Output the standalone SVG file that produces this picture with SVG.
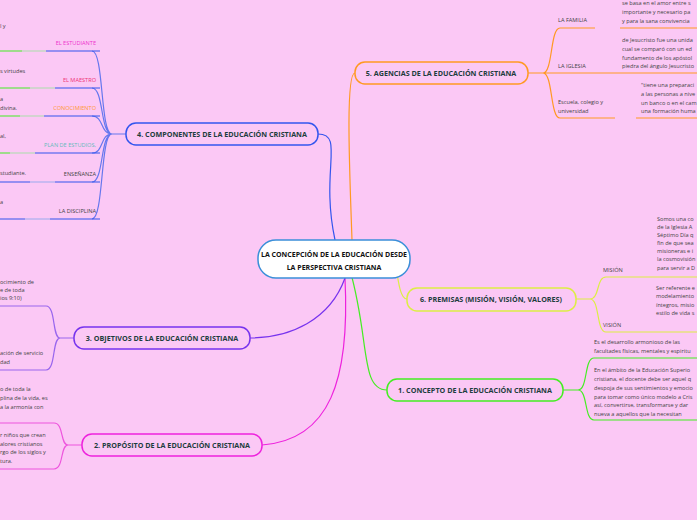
<svg xmlns="http://www.w3.org/2000/svg" width="697" height="520" viewBox="0 0 697 520">
<style>
text{font-family:"Open Sans","Noto Sans",sans-serif;fill:#444;font-size:5.6px}
.m{font-size:7.2px;font-weight:bold;fill:#1d3d3d}
.c{font-size:7px;font-weight:bold;fill:#111}
.n{fill:#fbc8f5;stroke-width:1.5}
path{fill:none}
</style>
<rect width="697" height="520" fill="#fbc8f5"/>
<g id="connectors" stroke-width="1.2">
<path d="M335 240 C320 170 345 134 318 134" stroke="#3355ee"/>
<path d="M126 134 H112 M112 134 C100 134 104 51 92 51 M112 134 C100 134 104 88 92 88 M112 134 C100 134 104 116 92 116 M112 134 C100 134 104 153 92 153 M112 134 C100 134 104 182 92 182 M112 134 C100 134 104 219 92 219" stroke="#6677ee"/>
<path d="M0 51 H22 M0 88 H30 M0 116 H20 M0 153 H10" stroke="#44ee22"/>
<path d="M22 51 H46 M30 88 H55 M20 116 H44 M10 153 H35" stroke="#aaddaa"/>
<path d="M46 51 H100 M55 88 H100 M44 116 H100 M35 153 H100 M0 182 H30 M55 182 H100 M0 219 H25 M50 219 H100" stroke="#3355ee"/>
<path d="M30 182 H55 M25 219 H50" stroke="#99aaee"/>
<path d="M345 278 C350 380 330 440 262 445" stroke="#ee22dd"/>
<path d="M345 278 C330 320 290 338 250 338" stroke="#7733ee"/>
<path d="M350 270 C370 340 360 390 387 390" stroke="#44ee22"/>
<path d="M395 260 C398 280 400 299 407 299" stroke="#ddee44"/>
<path d="M355 73 C345 73 350 180 352 240" stroke="#ff9922"/>
<path d="M528 73 H543 M543 73 C553 73 550 28 560 28 H595 M620 28 H697 M543 73 H697 M543 73 C553 73 550 118 560 118 H615 M636 118 H697" stroke="#ff9922"/>
<path d="M576 299 H590 M590 299 C600 299 596 277 606 277 H697 M590 299 C600 299 596 332 606 332 H697" stroke="#ddee44"/>
<path d="M563 390 H578 M578 390 C588 390 584 358 594 358 H697 M578 390 C588 390 584 420 594 420 H697" stroke="#44ee22"/>
<path d="M74 338 H60 C52 338 56 306 46 306 H0 M60 338 C52 338 56 370 46 370 H0" stroke="#9966ee"/>
<path d="M82 445 H68 C60 445 64 423 54 423 H0 M68 445 C60 445 64 469 54 469 H0" stroke="#ee55dd"/>
</g>
<g id="center"><rect x="258" y="240" width="152" height="38" rx="18" fill="#fff" stroke="#3b8fd9" stroke-width="1.5"/>
<text class="c" x="334" y="257" text-anchor="middle">LA CONCEPCIÓN DE LA EDUCACIÓN DESDE</text>
<text class="c" x="334" y="270" text-anchor="middle">LA PERSPECTIVA CRISTIANA</text></g>
<g id="n4"><rect class="n" x="126" y="123" width="192" height="22" rx="10" stroke="#3355ee"/><text class="m" x="222" y="137" text-anchor="middle">4. COMPONENTES DE LA EDUCACIÓN CRISTIANA</text>
<g text-anchor="end"><text x="96" y="45" style="fill:#ee33cc">EL ESTUDIANTE</text><text x="96" y="82" style="fill:#ee3377">EL MAESTRO</text><text x="96" y="110" style="fill:#ff9933">CONOCIMIENTO</text><text x="96" y="147" style="fill:#66bbbb">PLAN DE ESTUDIOS,</text><text x="96" y="176">ENSEÑANZA</text><text x="96" y="213">LA DISCIPLINA</text></g>
<text x="0" y="28">l y</text><text x="0" y="73">s virtudes</text><text x="0" y="101">a</text><text x="0" y="110">divina.</text><text x="0" y="138">al,</text><text x="0" y="175">studiante.</text><text x="0" y="204">a</text></g>
<g id="n5"><rect class="n" x="355" y="62" width="173" height="22" rx="10" stroke="#ff9922"/><text class="m" x="441" y="76" text-anchor="middle">5. AGENCIAS DE LA EDUCACIÓN CRISTIANA</text>
<text x="558" y="22">LA FAMILIA</text><text x="622" y="5">se basa en el amor entre s</text><text x="622" y="14">importante y necesario pa</text><text x="622" y="23">y para la sana convivencia</text>
<text x="558" y="68">LA IGLESIA</text><text x="622" y="42">de Jesucristo fue una unida</text><text x="622" y="51">cual se comparó con un ed</text><text x="622" y="60">fundamento de los apóstol</text><text x="622" y="68">piedra del ángulo Jesucristo</text>
<text x="558" y="104">Escuela, colegio y</text><text x="558" y="113">universidad</text><text x="641" y="87">"tiene una preparaci</text><text x="641" y="96">a las personas a nive</text><text x="641" y="105">un banco o en el cam</text><text x="641" y="113">una formación huma</text></g>
<g id="n6"><rect class="n" x="407" y="288" width="169" height="23" rx="10" stroke="#ddee44"/><text class="m" x="491" y="302" text-anchor="middle">6. PREMISAS (MISIÓN, VISIÓN, VALORES)</text>
<text x="603" y="272">MISIÓN</text><text x="657" y="221">Somos una co</text><text x="657" y="229">de la Iglesia A</text><text x="657" y="237">Séptimo Día q</text><text x="657" y="245">fin de que sea</text><text x="657" y="253">misioneras e i</text><text x="657" y="261">la cosmovisión</text><text x="657" y="270">para servir a D</text>
<text x="603" y="327">VISIÓN</text><text x="656" y="290">Ser referente e</text><text x="656" y="298">modelamiento</text><text x="656" y="307">íntegros, misio</text><text x="656" y="315">estilo de vida s</text></g>
<g id="n1"><rect class="n" x="387" y="379" width="176" height="22" rx="10" stroke="#44ee22"/><text class="m" x="475" y="393" text-anchor="middle">1. CONCEPTO DE LA EDUCACIÓN CRISTIANA</text>
<text x="594" y="344">Es el desarrollo armonioso de las</text><text x="594" y="353">facultades físicas, mentales y espiritu</text>
<text x="594" y="372">En el ámbito de la Educación Superio</text><text x="594" y="381">cristiana, el docente debe ser aquel q</text><text x="594" y="390">despoja de sus sentimientos y emocio</text><text x="594" y="399">para tomar como único modelo a Cris</text><text x="594" y="407">así, convertirse, transformarse y dar</text><text x="594" y="416">nueva a aquellos que la necesitan</text></g>
<g id="n3"><rect class="n" x="74" y="327" width="176" height="22" rx="10" stroke="#7733ee"/><text class="m" x="162" y="341" text-anchor="middle">3. OBJETIVOS DE LA EDUCACIÓN CRISTIANA</text>
<text x="0" y="284">ocimiento de</text><text x="0" y="292">e de toda</text><text x="0" y="300">ios 9:10)</text><text x="0" y="355">ación de servicio</text><text x="0" y="364">dad</text></g>
<g id="n2"><rect class="n" x="82" y="434" width="180" height="22" rx="10" stroke="#ee22dd"/><text class="m" x="172" y="448" text-anchor="middle">2. PROPÓSITO DE LA EDUCACIÓN CRISTIANA</text>
<text x="0" y="391">o de toda la</text><text x="0" y="400">plina de la vida, es</text><text x="0" y="409">a la armonía con</text><text x="0" y="437">r niños que crean</text><text x="0" y="446">alores cristianos</text><text x="0" y="454">rgo de los siglos y</text><text x="0" y="463">tura.</text></g>
</svg>
